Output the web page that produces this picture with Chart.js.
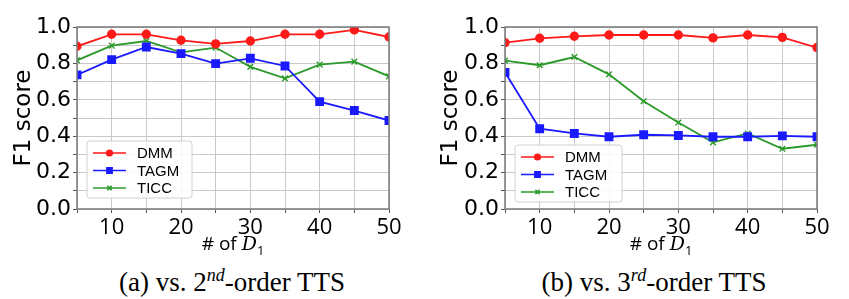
<!DOCTYPE html>
<html>
<head>
<meta charset="utf-8">
<script src="https://cdn.jsdelivr.net/npm/chart.js@4/dist/chart.umd.min.js"></script>
<style>
  body { margin: 0; background: #fff; width: 849px; height: 299px; overflow: hidden; position: relative; }
  canvas { position: absolute; top: 0; }
  #ca { left: 0; }
  #cb { left: 425px; }
  .xt { position: absolute; top: 230px; width: 200px; text-align: center; font-family: "Open Sans", sans-serif; font-size: 19px; color: #000; }
  .xt i { font-family: "DejaVu Serif", serif; }
  .xt sub { font-size: 13px; }
  .cap { position: absolute; top: 265px; width: 340px; text-align: center; font-family: "Liberation Serif", serif; font-size: 27px; color: #000; }
  .cap sup { font-size: 18px; font-style: italic; }
</style>
</head>
<body>
<canvas id="ca" width="420" height="240"></canvas>
<canvas id="cb" width="424" height="240"></canvas>
<div class="xt" style="left:133px"># of <i>D</i><sub>1</sub></div>
<div class="xt" style="left:561px"># of <i>D</i><sub>1</sub></div>
<div class="cap" style="left:62px">(a) vs. 2<sup>nd</sup>-order TTS</div>
<div class="cap" style="left:484px">(b) vs. 3<sup>rd</sup>-order TTS</div>
<script>
// x values (# of D1)
const numD1 = [5, 10, 15, 20, 25, 30, 35, 40, 45, 50];

// (a) vs. 2nd-order TTS
const dmmA  = [0.894, 0.960, 0.960, 0.927, 0.907, 0.923, 0.960, 0.960, 0.984, 0.945];
const tagmA = [0.737, 0.821, 0.890, 0.854, 0.799, 0.828, 0.786, 0.590, 0.541, 0.486];
const ticcA = [0.817, 0.898, 0.923, 0.861, 0.887, 0.781, 0.718, 0.793, 0.810, 0.729];

// (b) vs. 3rd-order TTS
const dmmB  = [0.914, 0.938, 0.949, 0.956, 0.956, 0.956, 0.940, 0.956, 0.943, 0.887];
const tagmB = [0.751, 0.441, 0.415, 0.397, 0.408, 0.404, 0.397, 0.397, 0.402, 0.397];
const ticcB = [0.815, 0.790, 0.835, 0.740, 0.592, 0.475, 0.366, 0.415, 0.331, 0.353];

const seriesNames = ['DMM', 'TAGM', 'TICC'];

function pts(vals) {
    return vals.map((v, i) => ({ x: numD1[i], y: v }));
}

function makeSets(dmm, tagm, ticc) {
    return [
        { label: seriesNames[0], data: pts(dmm), borderColor: '#ff1a1a', backgroundColor: '#ff1a1a',
          pointStyle: 'circle', pointRadius: 3.8, borderWidth: 1.8, clip: 0 },
        { label: seriesNames[1], data: pts(tagm), borderColor: '#1a1aff', backgroundColor: '#1a1aff',
          pointStyle: 'rect', pointRadius: 5, borderWidth: 1.8, clip: 0 },
        { label: seriesNames[2], data: pts(ticc), borderColor: '#2b9a2b', backgroundColor: '#2b9a2b',
          pointStyle: 'crossRot', pointRadius: 4, pointBorderWidth: 1.4, borderWidth: 1.8, clip: 0 }
    ];
}

// frame round the plot area + legend box inside it
const framePlugin = {
    id: 'frameBox',
    afterDatasetsDraw(chart, args, opts) {
        const a = chart.chartArea;
        const ctx = chart.ctx;
        ctx.save();
        ctx.strokeStyle = '#7a7a7a';
        ctx.lineWidth = 1.5;
        ctx.strokeRect(a.left, a.top, a.right - a.left, a.bottom - a.top);

        // legend
        const bx = a.left + opts.dx, by = a.bottom - opts.dy - opts.h;
        ctx.fillStyle = 'rgba(255,255,255,0.85)';
        ctx.strokeStyle = '#d0d0d0';
        ctx.lineWidth = 1;
        ctx.beginPath();
        ctx.roundRect(bx, by, opts.w, opts.h, 3);
        ctx.fill();
        ctx.stroke();
        ctx.font = '15px "Liberation Sans", Arial, sans-serif';
        ctx.textBaseline = 'middle';
        chart.data.datasets.forEach((ds, i) => {
            const y = by + 12 + i * 17.5;
            const x0 = bx + 6, x1 = bx + 39;
            ctx.strokeStyle = ds.borderColor;
            ctx.fillStyle = ds.backgroundColor;
            ctx.lineWidth = 1.5;
            ctx.beginPath();
            ctx.moveTo(x0, y);
            ctx.lineTo(x1, y);
            ctx.stroke();
            Chart.helpers.drawPoint(ctx, {
                pointStyle: ds.pointStyle, rotation: 0,
                radius: ds.pointRadius * 0.75, borderWidth: ds.pointBorderWidth || 1
            }, (x0 + x1) / 2, y);
            ctx.fillStyle = '#000';
            ctx.fillText(ds.label, bx + 50, y + 1);
        });
        ctx.restore();
    }
};

function makeChart(id, sets, c) {
    new Chart(document.getElementById(id), {
        type: 'line',
        data: { datasets: sets },
        plugins: [framePlugin],
        options: {
            responsive: false,
            animation: false,
            layout: { padding: { top: 27, right: c.padRight, left: 0, bottom: 0 } },
            elements: { line: { tension: 0 } },
            plugins: {
                legend: { display: false },
                tooltip: { enabled: false },
                frameBox: c.legend
            },
            scales: {
                x: {
                    type: 'linear', min: 5, max: 50,
                    border: { display: false },
                    grid: { color: '#c9c9c9', borderDash: [3, 2], lineWidth: 1,
                            tickColor: '#555', tickLength: 4, tickBorderDash: [] },
                    ticks: {
                        stepSize: 5, autoSkip: false, maxRotation: 0, padding: 2, color: '#000',
                        font: { family: '"Open Sans", sans-serif', size: 22 },
                        callback: v => (v % 10 === 0 ? String(v) : '')
                    },
                    afterFit: s => { s.height = 31; }
                },
                y: {
                    min: 0, max: 1,
                    border: { display: false },
                    grid: { color: '#c9c9c9', borderDash: [3, 2], lineWidth: 1,
                            tickColor: '#555', tickLength: 4, tickBorderDash: [] },
                    ticks: {
                        stepSize: 0.1, autoSkip: false, padding: 2, color: '#000',
                        font: { family: '"DejaVu Sans", sans-serif', size: 22 },
                        callback: v => (Math.round(v * 10) % 2 === 0 ? v.toFixed(1) : '')
                    },
                    title: {
                        display: true, text: 'F1 score', color: '#000',
                        font: { family: '"DejaVu Sans", sans-serif', size: 23 },
                        padding: { top: c.titlePad, bottom: 0 }
                    },
                    afterFit: s => { s.width = c.yWidth; }
                }
            }
        }
    });
}

makeChart('ca', makeSets(dmmA, tagmA, ticcA),
    { padRight: 31, yWidth: 77, titlePad: 10, legend: { dx: 10, dy: 11, w: 105, h: 57 } });
makeChart('cb', makeSets(dmmB, tagmB, ticcB),
    { padRight: 32, yWidth: 80, titlePad: 12, legend: { dx: 10, dy: 7, w: 107, h: 57 } });
</script>
</body>
</html>
